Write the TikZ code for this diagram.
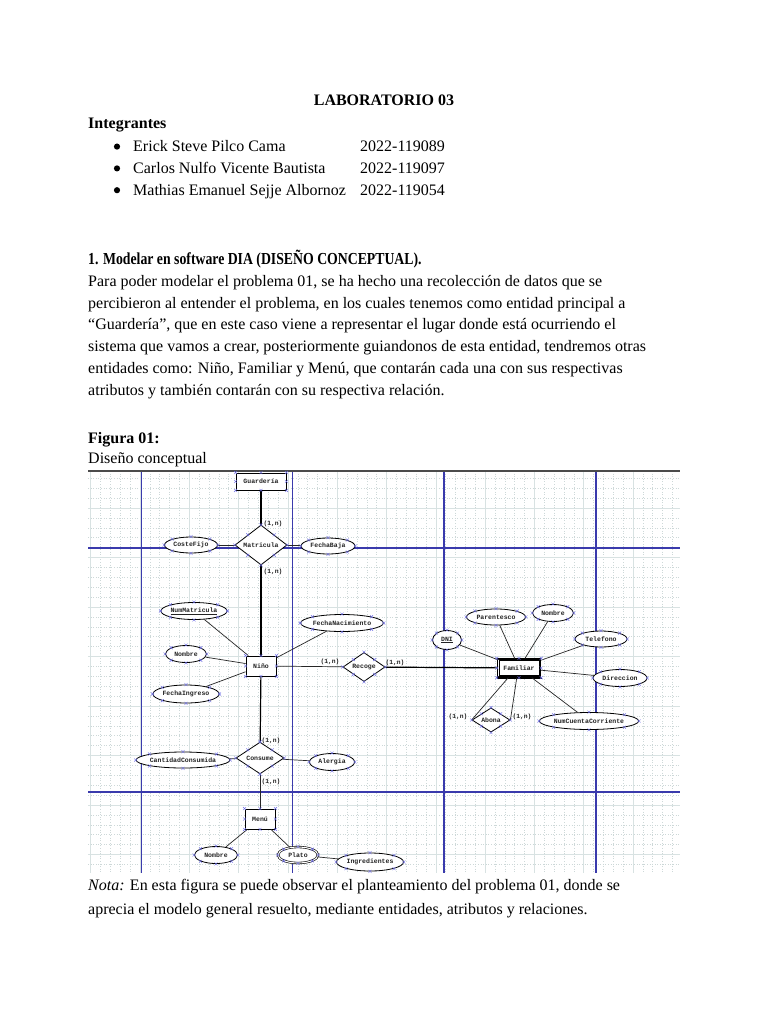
\documentclass[tikz,border=0pt]{standalone}
\usepackage{fontspec}
\setmainfont{Liberation Serif}
\newfontfamily\diafont{Liberation Mono}
\usetikzlibrary{shapes.geometric,shapes.misc,calc}
\definecolor{gridminor}{RGB}{205,216,216}
\definecolor{gridmajor}{RGB}{216,226,226}
\definecolor{pagebreak}{RGB}{58,58,172}
\definecolor{cpblue}{RGB}{110,110,230}
\definecolor{diatext}{RGB}{35,35,35}
\newcommand\cpmarks[1]{\foreach \a in {north,south,east,west,north east,north west,south east,south west}{\node[cp] at (#1.\a) {};}}
\begin{document}
\begin{tikzpicture}[x=1pt,y=-1pt,
  txt/.style={anchor=base west,inner sep=0,font=\fontsize{16}{19}\selectfont},
  dia/.style={inner sep=0,fill=white,font=\diafont\bfseries\fontsize{6.5}{7}\selectfont,text=diatext},
  ent/.style={dia,draw=black,line width=0.9,rectangle},
  attr/.style={dia,draw=black,line width=0.8,ellipse},
  rel/.style={dia,draw=black,line width=0.8,diamond},
  card/.style={inner sep=0,font=\diafont\bfseries\fontsize{6.3}{7}\selectfont,text=diatext},
  cp/.style={cross out,draw=cpblue,line width=0.4,minimum size=2.6,inner sep=0},
  lnk/.style={line width=0.7,draw=black!85},
  mainlnk/.style={line width=1.2,draw=black},
  minorg/.style={draw=gridminor,line width=0.5,dash pattern=on 1pt off 1.6pt},
  majorg/.style={draw=gridmajor,line width=0.6},
  pbreak/.style={draw=pagebreak,line width=1.2}]
\useasboundingbox (0,0) rectangle (768,1024);
\fill[white] (0,0) rectangle (768,1024);

% ---------- text ----------
\node[txt,anchor=base] (title) at (384,105.5) {\bfseries LABORATORIO 03};
\node[txt] (integ) at (88,129) {\bfseries Integrantes};
\fill (117,146.6) circle (3.1);
\fill (117,168.4) circle (3.1);
\fill (117,190.2) circle (3.1);
\node[txt] (n1) at (133,151.5) {Erick Steve Pilco Cama};
\node[txt] (n2) at (133,173.3) {Carlos Nulfo Vicente Bautista};
\node[txt] (n3) at (133,195.1) {Mathias Emanuel Sejje Albornoz};
\node[txt] (c1) at (360,151.5) {2022-119089};
\node[txt] (c2) at (360,173.3) {2022-119097};
\node[txt] (c3) at (360,195.1) {2022-119054};

\node[txt] (h1) at (88,264.5) {\scalebox{0.86}[1.05]{\bfseries 1. Modelar en software DIA (DISEÑO CONCEPTUAL).}};
\node[txt] (p1) at (88,286.3) {Para poder modelar el problema 01, se ha hecho una recolección de datos que se};
\node[txt] (p2) at (88,308.1) {percibieron al entender el problema, en los cuales tenemos como entidad principal a};
\node[txt] (p3) at (88,329.9) {“Guardería”, que en este caso viene a representar el lugar donde está ocurriendo el};
\node[txt] (p4) at (88,351.7) {sistema que vamos a crear, posteriormente guiandonos de esta entidad, tendremos otras};
\node[txt] (p5) at (88,373.5) {entidades como: Niño, Familiar y Menú, que contarán cada una con sus respectivas};
\node[txt] (p6) at (88,395.3) {atributos y también contarán con su respectiva relación.};
\node[txt] (fig) at (88,443) {\bfseries Figura 01:};
\node[txt] (figt) at (88,463.5) {Diseño conceptual};
\node[txt] (nota1) at (88,890.5) {\itshape Nota:\upshape{} En esta figura se puede observar el planteamiento del problema 01, donde se};
\node[txt] (nota2) at (88,914.5) {aprecia el modelo general resuelto, mediante entidades, atributos y relaciones.};

% ---------- grid ----------
\begin{scope}
\clip (88,471) rectangle (680,873);
\foreach \i in {-31,...,30} \draw[minorg] ({386.5+\i*9.86},471) -- ++(0,402);
\foreach \j in {-9,...,33} \draw[minorg] (88,{557.5+\j*9.9}) -- ++(592,0);
\foreach \i in {-6,...,6} \draw[majorg] ({386.5+\i*49.3},471) -- ++(0,402);
\foreach \j in {-2,...,7} \draw[majorg] (88,{557.5+\j*49.5}) -- ++(592,0);
\foreach \x in {141.5,292.5,444,596} \draw[pbreak] (\x,471) -- ++(0,402);
\foreach \y in {548,792} \draw[pbreak] (88,\y) -- ++(592,0);
\end{scope}
\draw[line width=1.8,draw=black!70] (88,471) -- (680,471);

% ---------- nodes ----------
\node[ent,minimum width=50,minimum height=17] (guard) at (261,481.5) {Guardería};
\node[rel,minimum width=52,minimum height=34] (mat) at (261,545) {Matricula};
\node[attr,minimum width=53,minimum height=16] (coste) at (191,545) {CosteFijo};
\node[attr,minimum width=54,minimum height=16] (fbaja) at (328,546) {FechaBaja};
\node[attr,minimum width=65,minimum height=17] (nummat) at (194,611) {\underline{NumMatricula}};
\node[attr,minimum width=78,minimum height=17] (fnac) at (342,623) {FechaNacimiento};
\node[attr,minimum width=41,minimum height=17] (nomn) at (186,654) {Nombre};
\node[ent,minimum width=30,minimum height=20] (nino) at (261,666) {Niño};
\node[attr,minimum width=65,minimum height=18] (fing) at (186,694) {FechaIngreso};
\node[rel,minimum width=42,minimum height=29] (rec) at (364,667) {Recoge};
\node[rel,minimum width=48,minimum height=27] (cons) at (260,758) {Consume};
\node[attr,minimum width=84,minimum height=16] (cant) at (183,760) {CantidadConsumida};
\node[attr,minimum width=45,minimum height=17] (aler) at (332,762) {Alergia};
\node[ent,minimum width=30,minimum height=20] (menu) at (260,819) {Menú};
\node[attr,minimum width=43,minimum height=17] (nomm) at (216,855) {Nombre};
\node[attr,double,double distance=1.1,line width=0.6,minimum width=40,minimum height=16] (plato) at (298,855) {Plato};
\node[attr,minimum width=67,minimum height=18] (ingr) at (370,862) {Ingredientes};
\node[attr,minimum width=29,minimum height=19] (dni) at (447,640) {\underline{DNI}};
\node[attr,minimum width=59,minimum height=16] (par) at (496,617) {Parentesco};
\node[attr,minimum width=41,minimum height=17] (nomf) at (553,613) {Nombre};
\node[attr,minimum width=52,minimum height=16] (tel) at (601,639) {Telefono};
\node[ent,line width=1.3,minimum width=43,minimum height=18] (fam) at (519,668) {Familiar};
\draw[line width=0.55] ($(fam.south west)+(2,-2)$) rectangle ($(fam.north east)+(-2,2)$);
\draw[line width=1.2] ($(fam.south west)+(0.5,1)$) -- ($(fam.south east)+(0.5,1)$);
\node[attr,minimum width=54,minimum height=17] (dir) at (620,678) {Direccion};
\node[rel,minimum width=38,minimum height=24] (abo) at (491,720) {Abona};
\node[attr,minimum width=88,minimum height=17] (numc) at (589,721) {NumCuentaCorriente};

% ---------- cardinalities ----------
\node[card] (k1) at (273,524) {(1,n)};
\node[card] (k2) at (273,572) {(1,n)};
\node[card] (k3) at (330,662) {(1,n)};
\node[card] (k4) at (395,663) {(1,n)};
\node[card] (k5) at (271,741) {(1,n)};
\node[card] (k6) at (271,782) {(1,n)};
\node[card] (k7) at (458,717) {(1,n)};
\node[card] (k8) at (522,717) {(1,n)};

% ---------- connectors ----------
\draw[mainlnk] (guard) -- (mat);
\draw[mainlnk] (mat) -- (nino);
\draw[mainlnk] (nino) -- (cons);
\draw[lnk,line width=0.9] (cons) -- (menu);
\draw[lnk] (nino) -- (rec);
\draw[mainlnk] (rec) -- (fam);
\draw[lnk] (coste) -- (mat);
\draw[lnk] (fbaja) -- (mat);
\draw[lnk] (nummat) -- (nino);
\draw[lnk] (fnac) -- (nino);
\draw[lnk] (nomn) -- (nino);
\draw[lnk] (fing) -- (nino);
\draw[lnk] (cant) -- (cons);
\draw[lnk] (aler) -- (cons);
\draw[lnk] (nomm) -- (menu);
\draw[lnk] (plato) -- (menu);
\draw[lnk] (plato) -- (ingr);
\draw[lnk] (dni) -- (fam);
\draw[lnk] (par) -- (fam);
\draw[lnk] (nomf) -- (fam);
\draw[lnk] (tel) -- (fam);
\draw[lnk] (dir) -- (fam);
\draw[lnk] (numc) -- (fam);
\draw[lnk] (fam.222) -- (abo.west);
\draw[lnk] (fam.257) -- (abo.east);

% ---------- connection points ----------
\foreach \n in {guard,mat,coste,fbaja,nummat,fnac,nomn,nino,fing,rec,cons,cant,aler,menu,nomm,plato,ingr,dni,par,nomf,tel,fam,dir,abo,numc}{\cpmarks{\n}}
\end{tikzpicture}
\end{document}
